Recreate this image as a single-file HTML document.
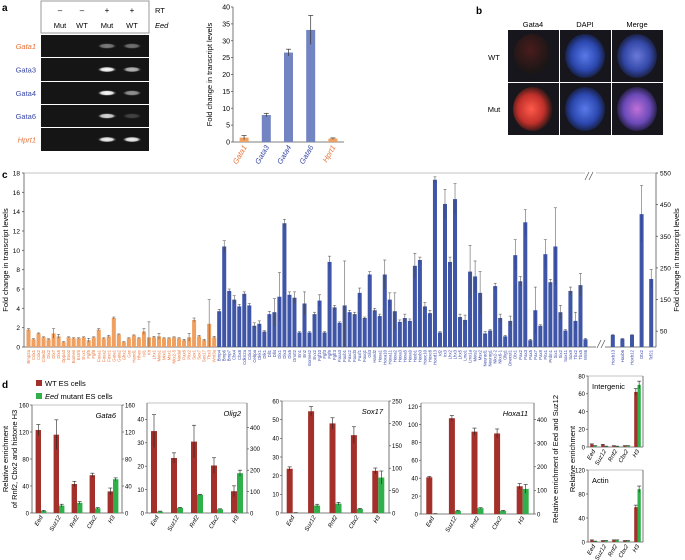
<!DOCTYPE html>
<html><head><meta charset="utf-8"><style>
body{margin:0;background:#fff}
svg{display:block;font-family:"Liberation Sans",sans-serif}
</style></head><body>
<svg id="fig" width="685" height="560" viewBox="0 0 685 560" xmlns="http://www.w3.org/2000/svg">
<defs>
<radialGradient id="band" cx="50%" cy="50%" r="50%"><stop offset="0" stop-color="#fff"/><stop offset="0.6" stop-color="#ddd"/><stop offset="1" stop-color="#222" stop-opacity="0"/></radialGradient>
<radialGradient id="redblob" cx="45%" cy="50%" r="55%"><stop offset="0" stop-color="#ff5a4a"/><stop offset="0.6" stop-color="#c0302a"/><stop offset="1" stop-color="#1a1414"/></radialGradient>
<radialGradient id="faintred" cx="45%" cy="40%" r="55%"><stop offset="0" stop-color="#4a1c1c"/><stop offset="1" stop-color="#1c1616"/></radialGradient>
<radialGradient id="blueblob" cx="50%" cy="50%" r="55%"><stop offset="0" stop-color="#5a7ae8"/><stop offset="0.6" stop-color="#2c48b0"/><stop offset="1" stop-color="#12162a"/></radialGradient>
<radialGradient id="mergeblob" cx="50%" cy="50%" r="55%"><stop offset="0" stop-color="#c070d8"/><stop offset="0.6" stop-color="#6a4ab8"/><stop offset="1" stop-color="#16142a"/></radialGradient>
<radialGradient id="mergewt" cx="50%" cy="50%" r="55%"><stop offset="0" stop-color="#6a7ad8"/><stop offset="0.6" stop-color="#3448a8"/><stop offset="1" stop-color="#14162a"/></radialGradient>
</defs>
</svg>
<script>
// ---------- panel a data ----------
const aGenes = ["Gata1","Gata3","Gata4","Gata6","Hprt1"];
const aValues = [1.3, 8.0, 26.5, 33.2, 1.0];
const aErrors = [0.6, 0.5, 1.0, 4.3, 0.2];
const aTicks = [0,5,10,15,20,25,30,35,40];
// ---------- panel c data ----------
const cOrangeGenes = ["Bmp2a","Cdx1","Cdx2","Cited2","Dlx2","Dlx7","Dlx5","Dppa3","Eno2","Eomes","Esrrb","Evx1","Fgf5","Fgf8","Foxa1","Foxa2","Foxc1","Gata1","Gata2","Gbx2","Gsc","Hand1","Hhex","Isl1","Kit","Lhx1","Meis1","Mixl1","Msx1","Nkx2-5","Nodal","Pax6","Pitx2","Sox1","Sox7","Sox17","Tbx3","Wnt3a"];
const cOrangeValues = [1.8,0.8,1.4,1.0,0.8,1.4,1.1,0.5,1.0,0.9,0.9,1.0,0.7,1.0,1.8,0.9,1.1,3.0,1.3,0.5,0.9,1.2,0.9,1.6,1.0,1.0,1.1,0.9,0.9,1.0,0.9,0.7,1.0,2.8,1.1,0.7,2.4,1.0];
const cOrangeErrors = [0.1,0.05,0.05,0.05,0.05,0.5,0.2,0.05,0.05,0.05,0.05,0.05,0.2,0.05,0.1,0.05,0.1,0.1,0.05,0.05,0.05,0.05,0.05,0.3,1.6,0.1,0.3,0.05,0.05,0.05,0.05,0.1,0.4,0.2,0.1,0.1,2.5,0.1];
const cBlueGenes = ["Bmp4","Bmp6","Bmp7","Cbx4","Cbx8","Cdkn2a","Cdx4","Cebpa","Dkk1","Dlk1","Dll1","Dll4","Dlx1","Dlx3","Dlx6","Dmrt2","En1","En2","Eomes2","Evx2","Fgf10","Fgf3","Fgf9","Fgfr3","Foxa3","Foxb1","Foxc2","Foxd3","Foxf1","Foxq1","Gli3","Hand2","Hoxa1","Hoxa10","Hoxa11","Hoxa2","Hoxa3","Hoxa5","Hoxa9","Hoxb1","Hoxb3","Hoxc10","Hoxc8","Hoxd13","Id2","Irx3","Lhx2","Lhx3","Lhx5","Lmo1","Lmx1a","Meis2","Msx2","Neurod1","Neurog1","Nkx2-2","Nkx6-1","Olig1","Onecut1","Otx1","Pax2","Pax3","Pax5","Pax7","Pax9","Pitx1","Prdm1","Six1","Six2","Sox11","Sox9","Tbx2","Tbx5","Wnt6"];
const cBlueValues = [3.7,10.4,5.8,4.9,4.2,5.5,4.3,2.2,2.4,1.6,3.4,3.6,5.2,12.8,5.4,5.1,1.5,4.5,1.5,3.4,4.8,1.5,8.8,4.1,2.5,4.3,3.6,3.4,5.6,3.0,7.5,3.8,3.2,7.5,4.9,3.7,2.6,3.0,2.7,8.4,9.0,4.2,3.5,17.3,1.5,14.8,8.8,15.3,3.1,2.8,7.8,7.3,5.6,1.4,1.7,6.3,3.0,1.1,2.7,9.5,6.8,12.9,0.7,3.8,2.2,9.6,6.7,10.4,3.6,1.7,5.8,2.7,6.4,0.8];
const cBlueErrors = [0.2,0.6,0.2,0.4,0.2,0.2,0.2,0.3,0.3,0.1,0.3,1.4,2.5,0.4,0.3,0.6,0.1,1.2,0.1,0.2,0.6,0.1,0.6,0.2,0.1,4.6,0.2,0.2,0.5,0.1,0.3,0.2,0.2,1.5,0.7,1.9,0.2,0.4,0.2,1.3,0.3,0.4,0.3,0.3,0.1,1.5,0.5,1.6,0.3,0.5,2.7,1.6,2.2,0.2,0.1,0.3,0.4,0.1,0.5,1.6,0.5,1.3,0.1,2.4,0.1,1.5,0.3,4.0,0.7,0.1,0.4,0.9,1.2,0.1];
const cLeftTicks = [0,2,4,6,8,10,12,14,16,18];
const cRightGenes = ["Hoxb13","Hoxb6","Hoxb12","Otx2","Tcf21"];
const cRightValues = [38, 26, 38, 420, 215];
const cRightErrors = [1, 1, 1, 90, 30];
const cRightTicks = [50,150,250,350,450,550];
// ---------- panel d data ----------
const dCats = ["Eed","Suz12","Rnf2","Cbx2","H3"];
const gata6WT = [123,116,43,56,32];
const gata6Mut = [3,11,15,7,50];
const gata6WTErr = [8,22,4,3,5];
const gata6MutErr = [1,2,2,1,2];
const olig2WT = [35,23.5,30.5,20.3,9.3];
const olig2Mut = [0.6,2.2,7.8,1.6,17];
const olig2WTErr = [7,2.2,7,3.3,2.3];
const olig2MutErr = [0.2,0.2,0.2,0.2,1.3];
const sox17WT = [23.7,54.5,48,41.7,22.6];
const sox17Mut = [0.1,4,5,2.2,19];
const sox17WTErr = [1,2.5,3,4.5,1.5];
const sox17MutErr = [0.1,0.7,0.7,0.3,3.5];
const hoxa11WT = [41,107,92,90,31];
const hoxa11Mut = [0.3,3.5,6.5,3.5,28];
const hoxa11WTErr = [1,3,4,5,3];
const hoxa11MutErr = [0.1,0.5,0.5,0.5,5];
const interWT = [3,2.5,1,1,62];
const interMut = [1,0.5,0.5,1,70];
const actinWT = [3,2,3,2,58];
const actinMut = [1,2,3,2,88];
const gata6Ticks = [0,40,80,120,160];
const gata6RTicks = [0,40,80,120,160];
const olig2Ticks = [0,10,20,30,40];
const olig2RTicks = [0,100,200,300,400];
const sox17Ticks = [0,10,20,30,40,50,60];
const sox17RTicks = [0,50,100,150,200,250];
const hoxa11Ticks = [0,20,40,60,80,100,120];
const hoxa11RTicks = [0,100,200,300,400];
const interTicks = [0,20,40,60,80];
const actinTicks = [0,40,80,120];

const NS="http://www.w3.org/2000/svg";
const svg=document.getElementById('fig');
function mk(tag,attrs,parent){const e=document.createElementNS(NS,tag);for(const k in attrs)e.setAttribute(k,attrs[k]);(parent||svg).appendChild(e);return e;}
function txt(s,attrs,parent){const e=mk('text',attrs,parent);e.textContent=s;return e;}
function grp(parent){return mk('g',{},parent);}

const ORANGE="#f0a060", BLUE="#3e55a8", LBLUE="#7284c2", RED="#a3302a", GREEN="#2fb04a", OTXT="#e8743a", BTXT="#3a48a8";

// ===== Panel labels =====
let t;
t=txt("a",{x:2,y:11,"font-size":10,"font-weight":"bold"});


t=txt("b",{x:476,y:14,"font-size":10,"font-weight":"bold"});


t=txt("c",{x:2,y:178,"font-size":10,"font-weight":"bold"});


t=txt("d",{x:2,y:388,"font-size":10,"font-weight":"bold"});



// ===== Panel a gel =====
const gel=grp();


mk('rect',{x:41,y:1,width:108,height:32,fill:"none",stroke:"#999","stroke-width":1},gel);
const laneX=[60,82,107,132];
const signs=["–","–","+","+"], geno=["Mut","WT","Mut","WT"];
laneX.forEach((x,i)=>{
  txt(signs[i],{x:x,y:13,"font-size":8,"text-anchor":"middle"},gel);
  txt(geno[i],{x:x,y:28,"font-size":7.5,"text-anchor":"middle"},gel);
});
txt("RT",{x:155,y:13,"font-size":7.5},gel);
txt("Eed",{x:155,y:28,"font-size":7.5,"font-style":"italic"},gel);
const rowsY=[35,58,82,105,128], rowsH=[22,23,22,22,23];
const gelGenes=["Gata1","Gata3","Gata4","Gata6","Hprt1"];
const gelColors=[OTXT,BTXT,BTXT,BTXT,OTXT];
const bandStr=[[0.45,0.4],[1,0.7],[1,0.55],[0.85,0.2],[0.95,0.95]];
rowsY.forEach((y,i)=>{
  mk('rect',{x:41,y:y,width:108,height:rowsH[i],fill:"#151515"},gel);
  [107,132].forEach((x,j)=>{
    mk('ellipse',{cx:x,cy:y+rowsH[i]/2,rx:10,ry:3,fill:"url(#band)",opacity:bandStr[i][j]},gel);
  });
  txt(gelGenes[i],{x:36,y:y+rowsH[i]/2+3,"font-size":7.5,"text-anchor":"end",fill:gelColors[i],"font-style":(i==0||i==4)?"italic":"normal"},gel);
});

// ===== Panel a chart =====
const ac=grp();


const aX0=233,aX1=344,aTop=7,aZero=142,aMax=40;
const aY=v=>aZero-(v/aMax)*(aZero-aTop);
const aSlot=(aX1-aX0)/aGenes.length;
mk('line',{x1:aX0,y1:aTop,x2:aX0,y2:aZero,stroke:"#555","stroke-width":0.8},ac);
mk('line',{x1:aX0,y1:aZero,x2:aX1,y2:aZero,stroke:"#555","stroke-width":0.8},ac);
aTicks.forEach(v=>{
  mk('line',{x1:aX0-2,y1:aY(v),x2:aX0,y2:aY(v),stroke:"#555","stroke-width":0.8},ac);
  txt(String(v),{x:aX0-3,y:aY(v)+2.5,"font-size":7,"text-anchor":"end"},ac);
});
txt("Fold change in transcript levels",{x:0,y:0,"font-size":7.5,"text-anchor":"middle",transform:`translate(212,${(aTop+aZero)/2}) rotate(-90)`},ac);
aGenes.forEach((g,i)=>{
  const cx=aX0+aSlot*(i+0.5);
  const orange=(i==0||i==4);
  const b=mk('rect',{x:cx-4.5,y:aY(aValues[i]),width:9,height:aZero-aY(aValues[i]),fill:orange?ORANGE:LBLUE},ac);
  
  
  mk('line',{x1:cx,y1:aY(aValues[i]+aErrors[i]),x2:cx,y2:aY(aValues[i]-aErrors[i]),stroke:"#333","stroke-width":0.7},ac);
  mk('line',{x1:cx-2.5,y1:aY(aValues[i]+aErrors[i]),x2:cx+2.5,y2:aY(aValues[i]+aErrors[i]),stroke:"#333","stroke-width":0.7},ac);
  txt(g,{x:0,y:0,"font-size":7.5,"font-style":"italic","text-anchor":"end",fill:orange?OTXT:BTXT,transform:`translate(${cx+3},${aZero+5}) rotate(-60)`},ac);
});

// ===== Panel b =====
const pb=grp();


const bCols=["Gata4","DAPI","Merge"], bColX=[508,560,612];
bCols.forEach((c,i)=>txt(c,{x:bColX[i]+25,y:27,"font-size":7.5,"text-anchor":"middle"},pb));
txt("WT",{x:494,y:60,"font-size":7.5,"text-anchor":"middle"},pb);
txt("Mut",{x:494,y:112,"font-size":7.5,"text-anchor":"middle"},pb);
const fills=[["url(#faintred)","url(#blueblob)","url(#mergewt)"],["url(#redblob)","url(#blueblob)","url(#mergeblob)"]];
[30,83].forEach((y,r)=>{
  bColX.forEach((x,c)=>{
    mk('rect',{x:x,y:y,width:51,height:52,fill:"#16161c"},pb);
    if(r==0&&c==0){mk('ellipse',{cx:x+24,cy:y+24,rx:18,ry:20,fill:"url(#faintred)"},pb);}
    else{mk('ellipse',{cx:x+25,cy:y+26,rx:20,ry:22,fill:fills[r][c]},pb);}
  });
});

// ===== Panel c =====
const pc=grp();


const cX0=24,cX1=590,cTop=173,cZero=347,cMax=18;
const cY=v=>cZero-(v/cMax)*(cZero-cTop);
mk('line',{x1:cX0,y1:cTop,x2:cX0,y2:cZero,stroke:"#555","stroke-width":0.8},pc);
mk('line',{x1:cX0,y1:cTop,x2:585,y2:cTop,stroke:"#888","stroke-width":0.6},pc);
mk('line',{x1:cX0,y1:cZero,x2:596,y2:cZero,stroke:"#555","stroke-width":0.8},pc);
cLeftTicks.forEach(v=>{
  mk('line',{x1:cX0-2,y1:cY(v),x2:cX0,y2:cY(v),stroke:"#555","stroke-width":0.8},pc);
  txt(String(v),{x:cX0-4,y:cY(v)+2.5,"font-size":6.5,"text-anchor":"end"},pc);
});
txt("Fold change in transcript levels",{x:0,y:0,"font-size":7.5,"text-anchor":"middle",transform:`translate(8,${(cTop+cZero)/2}) rotate(-90)`},pc);
const allG=cOrangeGenes.concat(cBlueGenes), allV=cOrangeValues.concat(cBlueValues), allE=cOrangeErrors.concat(cBlueErrors);
const cSlot=(588-26)/allG.length;
allG.forEach((g,i)=>{
  const isO=i<cOrangeGenes.length;
  const cx=26+cSlot*(i+0.5);
  const v=allV[i], e=allE[i];
  const b=mk('rect',{x:cx-cSlot*0.4,y:cY(v),width:cSlot*0.8,height:cZero-cY(v),fill:isO?ORANGE:BLUE},pc);
  
  
  mk('line',{x1:cx,y1:cY(v+e),x2:cx,y2:cY(Math.max(0,v-e)),stroke:"#444","stroke-width":0.5},pc);
  mk('line',{x1:cx-1.5,y1:cY(v+e),x2:cx+1.5,y2:cY(v+e),stroke:"#444","stroke-width":0.5},pc);
  txt(g,{x:0,y:0,"font-size":4.3,"text-anchor":"end",fill:isO?OTXT:BTXT,transform:`translate(${cx+1.5},${cZero+3}) rotate(-90)`},pc);
});
// break marks
[[588,176],[600,344]].forEach(([x,y])=>{
  mk('line',{x1:x-3,y1:y+4,x2:x+1,y2:y-4,stroke:"#555","stroke-width":0.7},pc);
  mk('line',{x1:x+1,y1:y+4,x2:x+5,y2:y-4,stroke:"#555","stroke-width":0.7},pc);
});
const rX0=608,rX1=656,rMax=550;
const rY=v=>cZero-(v/rMax)*(cZero-cTop);
mk('line',{x1:596,y1:cTop,x2:rX1,y2:cTop,stroke:"#888","stroke-width":0.6},pc);
mk('line',{x1:605,y1:cZero,x2:rX1,y2:cZero,stroke:"#555","stroke-width":0.8},pc);
mk('line',{x1:rX1,y1:cTop,x2:rX1,y2:cZero,stroke:"#555","stroke-width":0.8},pc);
cRightTicks.forEach(v=>{
  mk('line',{x1:rX1,y1:rY(v),x2:rX1+2,y2:rY(v),stroke:"#555","stroke-width":0.8},pc);
  txt(String(v),{x:rX1+4,y:rY(v)+2.5,"font-size":6.5},pc);
});
txt("Fold change in transcript levels",{x:0,y:0,"font-size":7.5,"text-anchor":"middle",transform:`translate(679,${(cTop+cZero)/2}) rotate(-90)`},pc);
const rSlot=(rX1-rX0)/cRightGenes.length;
cRightGenes.forEach((g,i)=>{
  const cx=rX0+rSlot*(i+0.5), v=cRightValues[i], e=cRightErrors[i];
  const b=mk('rect',{x:cx-2,y:rY(v),width:4,height:cZero-rY(v),fill:BLUE},pc);
  
  
  mk('line',{x1:cx,y1:rY(v+e),x2:cx,y2:rY(Math.max(0,v-e)),stroke:"#444","stroke-width":0.5},pc);
  mk('line',{x1:cx-1.5,y1:rY(v+e),x2:cx+1.5,y2:rY(v+e),stroke:"#444","stroke-width":0.5},pc);
  txt(g,{x:0,y:0,"font-size":4.3,"text-anchor":"end",fill:BTXT,transform:`translate(${cx+1.5},${cZero+3}) rotate(-90)`},pc);
});

// ===== Panel d =====
const lg=grp();


mk('rect',{x:36,y:380,width:6,height:6,fill:RED},lg);
txt("WT ES cells",{x:45,y:386,"font-size":7.5},lg);
mk('rect',{x:36,y:393,width:6,height:6,fill:GREEN},lg);
const lt=txt("",{x:45,y:399,"font-size":7.5},lg);
const ts=mk('tspan',{"font-style":"italic"},lt); ts.textContent="Eed";
const ts2=mk('tspan',{},lt); ts2.textContent=" mutant ES cells";

function dChart(name,title,x0,x1,top,zero,max,wt,mut,wtE,mutE,ticks,rTicks,rMaxR){
  const g=grp();
  
  
  const Y=v=>zero-(v/max)*(zero-top);
  mk('line',{x1:x0,y1:top,x2:x0,y2:zero,stroke:"#555","stroke-width":0.8},g);
  mk('line',{x1:x0,y1:zero,x2:x1,y2:zero,stroke:"#555","stroke-width":0.8},g);
  mk('line',{x1:x0,y1:top,x2:x1,y2:top,stroke:"#888","stroke-width":0.6},g);
  mk('line',{x1:x1,y1:top,x2:x1,y2:zero,stroke:"#555","stroke-width":0.8},g);
  ticks.forEach(v=>{
    mk('line',{x1:x0-2,y1:Y(v),x2:x0,y2:Y(v),stroke:"#555","stroke-width":0.7},g);
    txt(String(v),{x:x0-3,y:Y(v)+2.3,"font-size":6,"text-anchor":"end"},g);
  });
  if(rTicks){
    const RY=v=>zero-(v/rMaxR)*(zero-top);
    rTicks.forEach(v=>{
      mk('line',{x1:x1,y1:RY(v),x2:x1+2,y2:RY(v),stroke:"#555","stroke-width":0.7},g);
      txt(String(v),{x:x1+3,y:RY(v)+2.3,"font-size":6},g);
    });
  }
  txt(title,{x:title=="Intergenic"||title=="Actin"?x0+4:x1-6,y:top+13,"font-size":7.5,"font-style":title=="Intergenic"||title=="Actin"?"normal":"italic","text-anchor":title=="Intergenic"||title=="Actin"?"start":"end"},g);
  const slot=(x1-x0)/dCats.length, bw=Math.min(6,slot*0.3);
  dCats.forEach((c,i)=>{
    const cx=x0+slot*(i+0.5);
    [[wt,wtE,RED,-bw],[mut,mutE,GREEN,0]].forEach(([arr,err,col,off],k)=>{
      const v=arr[i], e=err?err[i]:Math.max(0.5,v*0.06);
      const b=mk('rect',{x:cx+off,y:Y(v),width:bw,height:zero-Y(v),fill:col},g);
      
      
      const bx=cx+off+bw/2;
      mk('line',{x1:bx,y1:Y(v+e),x2:bx,y2:Y(Math.max(0,v-e)),stroke:"#222","stroke-width":0.6},g);
      mk('line',{x1:bx-2,y1:Y(v+e),x2:bx+2,y2:Y(v+e),stroke:"#222","stroke-width":0.6},g);
    });
    txt(c,{x:0,y:0,"font-size":6,"font-style":"italic","text-anchor":"end",transform:`translate(${cx+2},${zero+4}) rotate(-60)`},g);
  });
}
dChart('gata6-chart','Gata6',32,122,405,513,160,gata6WT,gata6Mut,gata6WTErr,gata6MutErr,gata6Ticks,gata6RTicks,160);
dChart('olig2-chart','Olig2',147,247,403,513,47,olig2WT,olig2Mut,olig2WTErr,olig2MutErr,olig2Ticks,olig2RTicks,515);
dChart('sox17-chart','Sox17',282,389,401,513,60,sox17WT,sox17Mut,sox17WTErr,sox17MutErr,sox17Ticks,sox17RTicks,250);
dChart('hoxa11-chart','Hoxa11',421,534,403,514,124,hoxa11WT,hoxa11Mut,hoxa11WTErr,hoxa11MutErr,hoxa11Ticks,hoxa11RTicks,470);
dChart('intergenic-chart','Intergenic',588,643,376,447,80,interWT,interMut,null,null,interTicks,null,0);
dChart('actin-chart','Actin',588,643,470,542,120,actinWT,actinMut,null,null,actinTicks,null,0);
const yl=grp();


txt("Relative enrichment",{x:0,y:0,"font-size":7.5,"text-anchor":"middle",transform:"translate(8,459) rotate(-90)"},yl);
txt("of Rnf2, Cbx2 and histone H3",{x:0,y:0,"font-size":7.5,"text-anchor":"middle",transform:"translate(17,459) rotate(-90)"},yl);
txt("Relative enrichment of Eed and Suz12",{x:0,y:0,"font-size":7.5,"text-anchor":"middle",transform:"translate(558,459) rotate(-90)"},yl);
txt("Relative enrichment",{x:0,y:0,"font-size":7.5,"text-anchor":"middle",transform:"translate(575,459) rotate(-90)"},yl);
</script>
</body></html>
